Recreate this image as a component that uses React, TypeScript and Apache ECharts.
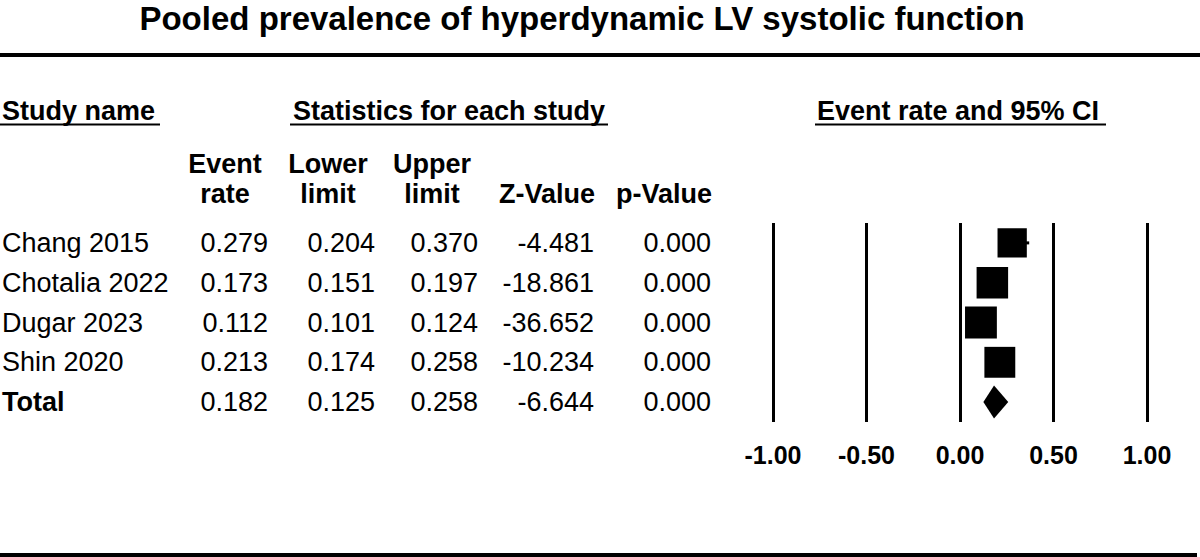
import React, { useEffect, useRef } from 'react';
import * as echarts from 'echarts';

const chartTitle = 'Pooled prevalence of hyperdynamic LV systolic function';
const sectionHeaders = ['Study name', 'Statistics for each study', 'Event rate and 95% CI'];
const columnHeadersTop = ['Event', 'Lower', 'Upper', '', ''];
const columnHeadersBottom = ['rate', 'limit', 'limit', 'Z-Value', 'p-Value'];
const studies = ['Chang 2015', 'Chotalia 2022', 'Dugar 2023', 'Shin 2020', 'Total'];
const eventRate = [0.279, 0.173, 0.112, 0.213, 0.182];
const lowerLimit = [0.204, 0.151, 0.101, 0.174, 0.125];
const upperLimit = [0.37, 0.197, 0.124, 0.258, 0.258];
const zValue = [-4.481, -18.861, -36.652, -10.234, -6.644];
const pValue = [0.0, 0.0, 0.0, 0.0, 0.0];
const relWeight = [0.92, 0.99, 1.0, 0.97, 1.0];
const isTotal = [0, 0, 0, 0, 1];
const xMin = -1;
const xMax = 1;
const xStep = 0.5;

const FONT = '"Liberation Sans", Arial, Helvetica, sans-serif';

function txt(text: string, x: number, y: number, size: number, bold: boolean, align: string) {
  return {
    type: 'text',
    x,
    y,
    silent: true,
    style: {
      text,
      fill: '#000',
      fontSize: size,
      fontWeight: bold ? 'bold' : 'normal',
      fontFamily: FONT,
      align,
      textAlign: align,
      verticalAlign: 'middle',
      textVerticalAlign: 'middle',
    },
  };
}

function hline(x1: number, x2: number, y: number, w: number) {
  return {
    type: 'line',
    silent: true,
    shape: { x1, y1: y, x2, y2: y },
    style: { stroke: '#000', lineWidth: w },
  };
}

export default function App() {
  const ref = useRef<HTMLDivElement>(null);

  useEffect(() => {
    if (!ref.current) return;
    const chart = echarts.init(ref.current, null, { renderer: 'svg' });
    const seriesData = studies.map((s, i) => [
      lowerLimit[i],
      upperLimit[i],
      eventRate[i],
      relWeight[i],
      i,
      isTotal[i],
    ]);

    chart.setOption({
      animation: false,
      backgroundColor: '#fff',
      grid: { left: 773, right: 53, top: 223, bottom: 135 },
      xAxis: {
        type: 'value',
        min: xMin,
        max: xMax,
        interval: xStep,
        axisLine: { show: false },
        axisTick: { show: false },
        splitLine: { show: true, lineStyle: { color: '#000', width: 3 } },
        axisLabel: {
          show: true,
          showMinLabel: true,
          showMaxLabel: true,
          margin: 20,
          color: '#000',
          fontSize: 25,
          fontWeight: 'bold',
          fontFamily: FONT,
          formatter: (v: number) => v.toFixed(2),
        },
      },
      yAxis: {
        type: 'category',
        data: studies,
        inverse: true,
        show: false,
      },
      series: [
        {
          type: 'custom',
          data: seriesData,
          encode: { x: [0, 1, 2], y: 4 },
          renderItem: (params: any, api: any) => {
            const lo = api.value(0);
            const hi = api.value(1);
            const est = api.value(2);
            const w = api.value(3);
            const cat = api.value(4);
            const tot = api.value(5);
            const pLo = api.coord([lo, cat]);
            const pHi = api.coord([hi, cat]);
            const pE = api.coord([est, cat]);
            const band = api.size([0, 1])[1];
            if (tot) {
              const h = band * 0.83;
              return {
                type: 'polygon',
                shape: {
                  points: [
                    [pLo[0], pE[1]],
                    [pE[0], pE[1] - h / 2],
                    [pHi[0], pE[1]],
                    [pE[0], pE[1] + h / 2],
                  ],
                },
                style: { fill: '#000' },
              };
            }
            const s = band * 0.8 * w;
            return {
              type: 'group',
              children: [
                {
                  type: 'line',
                  shape: { x1: pLo[0], y1: pE[1], x2: pHi[0], y2: pE[1] },
                  style: { stroke: '#000', lineWidth: 3 },
                },
                {
                  type: 'rect',
                  shape: { x: pE[0] - s / 2, y: pE[1] - s / 2, width: s, height: s },
                  style: { fill: '#000' },
                },
              ],
            };
          },
        },
      ],
    });

    const rowY = studies.map((s) => chart.convertToPixel({ yAxisIndex: 0 }, s) as number);

    const colRight = [268, 375, 478, 594, 711];
    const headerCenter = [225, 328, 432];
    const elements: any[] = [];
    elements.push(txt(chartTitle, 582, 18, 33, true, 'center'));
    elements.push(hline(0, 1200, 55, 4));
    elements.push(hline(0, 1197, 555, 4));

    elements.push(txt(sectionHeaders[0], 2, 111, 27, true, 'left'));
    elements.push(txt(sectionHeaders[1], 293, 111, 27, true, 'left'));
    elements.push(txt(sectionHeaders[2], 817, 111, 27, true, 'left'));
    elements.push(hline(0, 160, 124.5, 2));
    elements.push(hline(290, 608, 124.5, 2));
    elements.push(hline(815, 1106, 124.5, 2));

    columnHeadersTop.forEach((h, i) => {
      if (!h) return;
      elements.push(txt(h, headerCenter[i], 164, 27, true, 'center'));
    });
    columnHeadersBottom.forEach((h, i) => {
      if (i < 3) elements.push(txt(h, headerCenter[i], 194, 27, true, 'center'));
      else elements.push(txt(h, colRight[i] + 1, 194, 27, true, 'right'));
    });

    studies.forEach((s, i) => {
      const y = rowY[i];
      elements.push(txt(s, 2, y, 27, isTotal[i] === 1, 'left'));
      elements.push(txt(eventRate[i].toFixed(3), colRight[0], y, 27, false, 'right'));
      elements.push(txt(lowerLimit[i].toFixed(3), colRight[1], y, 27, false, 'right'));
      elements.push(txt(upperLimit[i].toFixed(3), colRight[2], y, 27, false, 'right'));
      elements.push(txt(zValue[i].toFixed(3), colRight[3], y, 27, false, 'right'));
      elements.push(txt(pValue[i].toFixed(3), colRight[4], y, 27, false, 'right'));
    });

    chart.setOption({ graphic: { elements } });

    return () => chart.dispose();
  }, []);

  return (
    <div
      ref={ref}
      style={{ position: 'absolute', left: 0, top: 0, width: 1200, height: 557, background: '#fff' }}
    />
  );
}
